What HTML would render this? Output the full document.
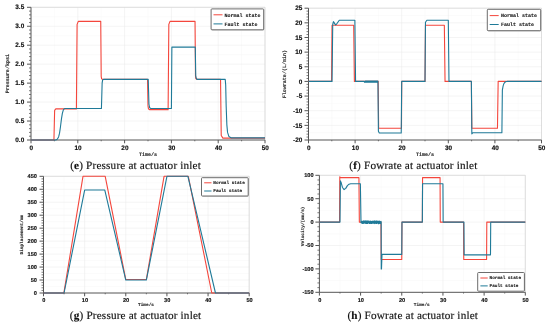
<!DOCTYPE html>
<html><head><meta charset="utf-8"><title>Figure</title>
<style>
html,body{margin:0;padding:0;background:#fff;}
svg{display:block}
text{text-rendering:geometricPrecision}
.tk text{font-family:"Liberation Sans",sans-serif;font-weight:bold;fill:#111;stroke:#111;stroke-width:0.15px}
.ax{font-family:"Liberation Mono",monospace;font-weight:bold;fill:#333;stroke:#333;stroke-width:0.15px}
.lg{font-family:"Liberation Mono",monospace;font-weight:bold;fill:#222;stroke:#222;stroke-width:0.12px}
.cap{font-family:"Liberation Serif",serif;font-size:11.2px;letter-spacing:0.18px;fill:#111;stroke:#111;stroke-width:0.15px}
</style></head><body>
<svg width="550" height="326" viewBox="0 0 550 326">
<rect width="550" height="326" fill="#fff"/>
<rect x="31" y="7.3" width="234" height="132.7" fill="#fff"/>
<path d="M54.4 7.3V140M101.2 7.3V140M148 7.3V140M194.8 7.3V140M241.6 7.3V140M31 130.52H265M31 111.56H265M31 92.61H265M31 73.65H265M31 54.69H265M31 35.74H265M31 16.78H265" stroke="#f6f6f6" stroke-width="0.5" fill="none"/>
<path d="M77.8 7.3V140M124.6 7.3V140M171.4 7.3V140M218.2 7.3V140M265 7.3V140M31 121.04H265M31 102.09H265M31 83.13H265M31 64.17H265M31 45.21H265M31 26.26H265M31 7.3H265" stroke="#e9e9e9" stroke-width="0.5" fill="none"/>
<path d="M31 7.3H265V140" stroke="#cfcfcf" stroke-width="0.6" fill="none"/>
<path d="M31 7.3V140H265M31 140v3.3M77.8 140v3.3M124.6 140v3.3M171.4 140v3.3M218.2 140v3.3M265 140v3.3M31 140h-4M31 121.04h-4M31 102.09h-4M31 83.13h-4M31 64.17h-4M31 45.21h-4M31 26.26h-4M31 7.3h-4" stroke="#555" stroke-width="1" fill="none"/>
<path d="M54.4 140v1.3M101.2 140v1.3M148 140v1.3M194.8 140v1.3M241.6 140v1.3M31 136.21h-2M31 132.42h-2M31 128.63h-2M31 124.83h-2M31 117.25h-2M31 113.46h-2M31 109.67h-2M31 105.88h-2M31 98.29h-2M31 94.5h-2M31 90.71h-2M31 86.92h-2M31 79.34h-2M31 75.55h-2M31 71.75h-2M31 67.96h-2M31 60.38h-2M31 56.59h-2M31 52.8h-2M31 49.01h-2M31 41.42h-2M31 37.63h-2M31 33.84h-2M31 30.05h-2M31 22.47h-2M31 18.67h-2M31 14.88h-2M31 11.09h-2" stroke="#505050" stroke-width="0.75" fill="none"/>
<path d="M31 140 L53.93 140 L54.63 110.43 L55.8 108.91 L76.4 108.91 L77.1 24.36 L78.27 21.33 L100.73 21.33 L101.2 76.3 L101.57 78.58 L102.37 79.34 L147.53 79.34 L148 105.88 L148.47 108.91 L149.4 109.67 L168.12 109.67 L168.83 24.36 L170 21.33 L195.03 21.33 L195.5 76.3 L195.88 78.58 L196.67 79.34 L220.54 79.34 L221.24 135.45 L222.88 138.1 L265 138.1" stroke="#f4463c" stroke-width="1.1" fill="none" stroke-linejoin="round"/>
<path d="M31 140 L55.8 140 L57.21 139.24 L58.61 136.97 L59.55 133.18 L60.48 126.73 L61.42 119.15 L62.36 113.46 L63.29 110.05 L64.23 108.72 L65.16 108.53 L101.43 108.53 L102.14 83.13 L102.6 80.1 L103.54 79.34 L148.23 79.34 L148.94 103.98 L149.64 107.77 L150.81 108.53 L171.4 108.53 L171.87 47.11 L195.27 47.11 L195.74 75.55 L196.2 78.2 L197.14 79.34 L225.22 79.34 L225.69 85.02 L226.16 105.88 L226.86 124.83 L227.56 132.42 L228.96 136.59 L231.3 137.91 L265 137.91" stroke="#1f7a98" stroke-width="1.1" fill="none" stroke-linejoin="round"/>
<g class="tk" font-size="6.4">
<text x="31.3" y="149.6" text-anchor="middle">0</text>
<text x="78.1" y="149.6" text-anchor="middle">10</text>
<text x="124.9" y="149.6" text-anchor="middle">20</text>
<text x="171.7" y="149.6" text-anchor="middle">30</text>
<text x="218.5" y="149.6" text-anchor="middle">40</text>
<text x="265.3" y="149.6" text-anchor="middle">50</text>
<text x="24.2" y="142.15" text-anchor="end">0.0</text>
<text x="24.2" y="123.19" text-anchor="end">0.5</text>
<text x="24.2" y="104.24" text-anchor="end">1.0</text>
<text x="24.2" y="85.28" text-anchor="end">1.5</text>
<text x="24.2" y="66.32" text-anchor="end">2.0</text>
<text x="24.2" y="47.36" text-anchor="end">2.5</text>
<text x="24.2" y="28.41" text-anchor="end">3.0</text>
<text x="24.2" y="9.45" text-anchor="end">3.5</text>
</g>
<text class="ax" font-size="5.05" x="148" y="155.9" text-anchor="middle">Time/s</text>
<text class="ax" font-size="5.05" transform="translate(9.4 73.65) rotate(-90)" text-anchor="middle">Pressure/kpsi</text>
<rect x="211.8" y="9.6" width="52.6" height="20.9" rx="1" fill="#cfcfcf"/>
<rect x="211.1" y="8.9" width="52.6" height="20.9" rx="0.8" fill="#fff" stroke="#5c5c5c" stroke-width="0.9"/>
<path d="M213.5 14.8H222.5" stroke="#f4463c" stroke-width="1"/>
<path d="M213.5 23.9H222.5" stroke="#1f7a98" stroke-width="1"/>
<text class="lg" font-size="5" x="224.5" y="16.5">Normal state</text>
<text class="lg" font-size="5" x="224.5" y="25.6">Fault state</text>
<rect x="308.5" y="8.2" width="233" height="131.8" fill="#fff"/>
<path d="M331.8 8.2V140M378.4 8.2V140M425 8.2V140M471.6 8.2V140M518.2 8.2V140M308.5 132.68H541.5M308.5 118.03H541.5M308.5 103.39H541.5M308.5 88.74H541.5M308.5 74.1H541.5M308.5 59.46H541.5M308.5 44.81H541.5M308.5 30.17H541.5M308.5 15.52H541.5" stroke="#f6f6f6" stroke-width="0.5" fill="none"/>
<path d="M355.1 8.2V140M401.7 8.2V140M448.3 8.2V140M494.9 8.2V140M541.5 8.2V140M308.5 125.36H541.5M308.5 110.71H541.5M308.5 96.07H541.5M308.5 81.42H541.5M308.5 66.78H541.5M308.5 52.13H541.5M308.5 37.49H541.5M308.5 22.84H541.5M308.5 8.2H541.5" stroke="#e9e9e9" stroke-width="0.5" fill="none"/>
<path d="M308.5 8.2H541.5V140" stroke="#cfcfcf" stroke-width="0.6" fill="none"/>
<path d="M308.5 8.2V140H541.5M308.5 140v3.3M355.1 140v3.3M401.7 140v3.3M448.3 140v3.3M494.9 140v3.3M541.5 140v3.3M308.5 140h-4M308.5 125.36h-4M308.5 110.71h-4M308.5 96.07h-4M308.5 81.42h-4M308.5 66.78h-4M308.5 52.13h-4M308.5 37.49h-4M308.5 22.84h-4M308.5 8.2h-4" stroke="#555" stroke-width="1" fill="none"/>
<path d="M331.8 140v1.3M378.4 140v1.3M425 140v1.3M471.6 140v1.3M518.2 140v1.3M308.5 137.07h-2M308.5 134.14h-2M308.5 131.21h-2M308.5 128.28h-2M308.5 122.43h-2M308.5 119.5h-2M308.5 116.57h-2M308.5 113.64h-2M308.5 107.78h-2M308.5 104.85h-2M308.5 101.92h-2M308.5 99h-2M308.5 93.14h-2M308.5 90.21h-2M308.5 87.28h-2M308.5 84.35h-2M308.5 78.49h-2M308.5 75.56h-2M308.5 72.64h-2M308.5 69.71h-2M308.5 63.85h-2M308.5 60.92h-2M308.5 57.99h-2M308.5 55.06h-2M308.5 49.2h-2M308.5 46.28h-2M308.5 43.35h-2M308.5 40.42h-2M308.5 34.56h-2M308.5 31.63h-2M308.5 28.7h-2M308.5 25.77h-2M308.5 19.92h-2M308.5 16.99h-2M308.5 14.06h-2M308.5 11.13h-2" stroke="#505050" stroke-width="0.75" fill="none"/>
<path d="M308.5 81.42 L331.57 81.42 L332.03 25.19 L353.7 25.19 L354.4 81.42 L378.17 81.42 L378.63 128.28 L401.47 128.28 L401.7 81.42 L425 81.42 L425.47 25.19 L444.34 25.19 L445.04 81.42 L471.37 81.42 L471.83 128.28 L497.46 128.28 L498.16 81.42 L541.5 81.42" stroke="#f4463c" stroke-width="1.1" fill="none" stroke-linejoin="round"/>
<path d="M308.5 81.42 L332.03 81.42 L332.73 24.31 L333.43 21.67 L335.53 24.89 L336.46 24.31 L339.26 20.21 L354.87 20.21 L355.57 81.42 L364.42 81.42 L364.42 82.3 L377.93 82.3 L377.93 81.13 L365.35 81.13 L377.93 81.42 L378.4 131.21 L379.33 132.97 L401.23 132.97 L401.7 81.42 L425 81.42 L425.47 22.26 L426.86 20.21 L448.3 20.21 L449 81.42 L471.37 81.42 L471.83 133.85 L473 132.68 L501.89 132.68 L502.36 90.21 L502.36 90.21 L503.13 85.85 L503.91 83.62 L504.69 82.47 L505.46 81.88 L506.24 81.58 L507.02 81.42 L541.5 81.42" stroke="#1f7a98" stroke-width="1.1" fill="none" stroke-linejoin="round"/>
<g class="tk" font-size="6.4">
<text x="308.8" y="149.6" text-anchor="middle">0</text>
<text x="355.4" y="149.6" text-anchor="middle">10</text>
<text x="402" y="149.6" text-anchor="middle">20</text>
<text x="448.6" y="149.6" text-anchor="middle">30</text>
<text x="495.2" y="149.6" text-anchor="middle">40</text>
<text x="541.8" y="149.6" text-anchor="middle">50</text>
<text x="302.3" y="142.15" text-anchor="end">-20</text>
<text x="302.3" y="127.51" text-anchor="end">-15</text>
<text x="302.3" y="112.86" text-anchor="end">-10</text>
<text x="302.3" y="98.22" text-anchor="end">-5</text>
<text x="302.3" y="83.57" text-anchor="end">0</text>
<text x="302.3" y="68.93" text-anchor="end">5</text>
<text x="302.3" y="54.28" text-anchor="end">10</text>
<text x="302.3" y="39.64" text-anchor="end">15</text>
<text x="302.3" y="24.99" text-anchor="end">20</text>
<text x="302.3" y="10.35" text-anchor="end">25</text>
</g>
<text class="ax" font-size="5.05" x="425" y="155.9" text-anchor="middle">Time/s</text>
<text class="ax" font-size="5.05" transform="translate(286.4 74.1) rotate(-90)" text-anchor="middle">Flowrate/(L/min)</text>
<rect x="488" y="10" width="53.4" height="21.4" rx="1" fill="#cfcfcf"/>
<rect x="487.3" y="9.3" width="53.4" height="21.4" rx="0.8" fill="#fff" stroke="#5c5c5c" stroke-width="0.9"/>
<path d="M489.7 15.6H498.7" stroke="#f4463c" stroke-width="1"/>
<path d="M489.7 24.5H498.7" stroke="#1f7a98" stroke-width="1"/>
<text class="lg" font-size="5" x="500.9" y="17.3">Normal state</text>
<text class="lg" font-size="5" x="500.9" y="26.2">Fault state</text>
<rect x="43.5" y="176.3" width="205.7" height="116.7" fill="#fff"/>
<path d="M64.07 176.3V293M105.21 176.3V293M146.35 176.3V293M187.49 176.3V293M228.63 176.3V293M43.5 286.52H249.2M43.5 273.55H249.2M43.5 260.58H249.2M43.5 247.62H249.2M43.5 234.65H249.2M43.5 221.68H249.2M43.5 208.72H249.2M43.5 195.75H249.2M43.5 182.78H249.2" stroke="#f6f6f6" stroke-width="0.5" fill="none"/>
<path d="M84.64 176.3V293M125.78 176.3V293M166.92 176.3V293M208.06 176.3V293M249.2 176.3V293M43.5 280.03H249.2M43.5 267.07H249.2M43.5 254.1H249.2M43.5 241.13H249.2M43.5 228.17H249.2M43.5 215.2H249.2M43.5 202.23H249.2M43.5 189.27H249.2M43.5 176.3H249.2" stroke="#e9e9e9" stroke-width="0.5" fill="none"/>
<path d="M43.5 176.3H249.2V293" stroke="#cfcfcf" stroke-width="0.6" fill="none"/>
<path d="M43.5 176.3V293H249.2M43.5 293v3.3M84.64 293v3.3M125.78 293v3.3M166.92 293v3.3M208.06 293v3.3M249.2 293v3.3M43.5 293h-4M43.5 280.03h-4M43.5 267.07h-4M43.5 254.1h-4M43.5 241.13h-4M43.5 228.17h-4M43.5 215.2h-4M43.5 202.23h-4M43.5 189.27h-4M43.5 176.3h-4" stroke="#555" stroke-width="1" fill="none"/>
<path d="M64.07 293v1.3M105.21 293v1.3M146.35 293v1.3M187.49 293v1.3M228.63 293v1.3M43.5 290.41h-2M43.5 287.81h-2M43.5 285.22h-2M43.5 282.63h-2M43.5 277.44h-2M43.5 274.85h-2M43.5 272.25h-2M43.5 269.66h-2M43.5 264.47h-2M43.5 261.88h-2M43.5 259.29h-2M43.5 256.69h-2M43.5 251.51h-2M43.5 248.91h-2M43.5 246.32h-2M43.5 243.73h-2M43.5 238.54h-2M43.5 235.95h-2M43.5 233.35h-2M43.5 230.76h-2M43.5 225.57h-2M43.5 222.98h-2M43.5 220.39h-2M43.5 217.79h-2M43.5 212.61h-2M43.5 210.01h-2M43.5 207.42h-2M43.5 204.83h-2M43.5 199.64h-2M43.5 197.05h-2M43.5 194.45h-2M43.5 191.86h-2M43.5 186.67h-2M43.5 184.08h-2M43.5 181.49h-2M43.5 178.89h-2" stroke="#505050" stroke-width="0.75" fill="none"/>
<path d="M43.5 293 L63.86 293 L82.99 176.3 L105.21 176.3 L125.78 279.51 L146.35 279.51 L164.04 176.3 L188.31 176.3 L211.76 293 L249.2 293" stroke="#f4463c" stroke-width="1.1" fill="none" stroke-linejoin="round"/>
<path d="M43.5 293 L64.07 293 L84.64 190.04 L104.8 190.04 L125.78 280.03 L146.35 280.03 L166.92 176.3 L187.9 176.3 L215.47 293 L249.2 293" stroke="#1f7a98" stroke-width="1.1" fill="none" stroke-linejoin="round"/>
<g class="tk" font-size="5.6">
<text x="43.8" y="301.8" text-anchor="middle">0</text>
<text x="84.94" y="301.8" text-anchor="middle">10</text>
<text x="126.08" y="301.8" text-anchor="middle">20</text>
<text x="167.22" y="301.8" text-anchor="middle">30</text>
<text x="208.36" y="301.8" text-anchor="middle">40</text>
<text x="249.5" y="301.8" text-anchor="middle">50</text>
<text x="36.9" y="294.88" text-anchor="end">0</text>
<text x="36.9" y="281.91" text-anchor="end">50</text>
<text x="36.9" y="268.95" text-anchor="end">100</text>
<text x="36.9" y="255.98" text-anchor="end">150</text>
<text x="36.9" y="243.01" text-anchor="end">200</text>
<text x="36.9" y="230.05" text-anchor="end">250</text>
<text x="36.9" y="217.08" text-anchor="end">300</text>
<text x="36.9" y="204.11" text-anchor="end">350</text>
<text x="36.9" y="191.15" text-anchor="end">400</text>
<text x="36.9" y="178.18" text-anchor="end">450</text>
</g>
<text class="ax" font-size="4.42" x="146" y="306.1" text-anchor="middle">Time/s</text>
<text class="ax" font-size="4.42" transform="translate(22.9 234.65) rotate(-90)" text-anchor="middle">Displacement/mm</text>
<rect x="202.2" y="178.4" width="46.7" height="18.3" rx="1" fill="#cfcfcf"/>
<rect x="201.5" y="177.7" width="46.7" height="18.3" rx="0.8" fill="#fff" stroke="#5c5c5c" stroke-width="0.9"/>
<path d="M204.2 182.8H211.5" stroke="#f4463c" stroke-width="1"/>
<path d="M204.2 191H211.5" stroke="#1f7a98" stroke-width="1"/>
<text class="lg" font-size="4.38" x="213.3" y="184.29">Normal state</text>
<text class="lg" font-size="4.38" x="213.3" y="192.49">Fault state</text>
<rect x="319.4" y="175.3" width="205.9" height="117" fill="#fff"/>
<path d="M339.99 175.3V292.3M381.17 175.3V292.3M422.35 175.3V292.3M463.53 175.3V292.3M504.71 175.3V292.3M319.4 280.6H525.3M319.4 257.2H525.3M319.4 233.8H525.3M319.4 210.4H525.3M319.4 187H525.3" stroke="#f6f6f6" stroke-width="0.5" fill="none"/>
<path d="M360.58 175.3V292.3M401.76 175.3V292.3M442.94 175.3V292.3M484.12 175.3V292.3M525.3 175.3V292.3M319.4 268.9H525.3M319.4 245.5H525.3M319.4 222.1H525.3M319.4 198.7H525.3M319.4 175.3H525.3" stroke="#e9e9e9" stroke-width="0.5" fill="none"/>
<path d="M319.4 175.3H525.3V292.3" stroke="#cfcfcf" stroke-width="0.6" fill="none"/>
<path d="M319.4 175.3V292.3H525.3M319.4 292.3v3.3M360.58 292.3v3.3M401.76 292.3v3.3M442.94 292.3v3.3M484.12 292.3v3.3M525.3 292.3v3.3M319.4 292.3h-4M319.4 268.9h-4M319.4 245.5h-4M319.4 222.1h-4M319.4 198.7h-4M319.4 175.3h-4" stroke="#555" stroke-width="1" fill="none"/>
<path d="M339.99 292.3v1.3M381.17 292.3v1.3M422.35 292.3v1.3M463.53 292.3v1.3M504.71 292.3v1.3M319.4 287.62h-2M319.4 282.94h-2M319.4 278.26h-2M319.4 273.58h-2M319.4 264.22h-2M319.4 259.54h-2M319.4 254.86h-2M319.4 250.18h-2M319.4 240.82h-2M319.4 236.14h-2M319.4 231.46h-2M319.4 226.78h-2M319.4 217.42h-2M319.4 212.74h-2M319.4 208.06h-2M319.4 203.38h-2M319.4 194.02h-2M319.4 189.34h-2M319.4 184.66h-2M319.4 179.98h-2" stroke="#505050" stroke-width="0.75" fill="none"/>
<path d="M319.4 222.1 L339.58 222.1 L339.78 176.7 L340.4 177.64 L358.93 177.64 L359.34 222.1 L380.96 222.1 L381.17 259.54 L401.76 259.54 L401.97 222.1 L422.35 222.1 L422.56 177.64 L440.06 177.64 L440.26 222.1 L463.53 222.1 L463.74 259.54 L486.59 259.54 L486.8 222.1 L525.3 222.1" stroke="#f4463c" stroke-width="1.1" fill="none" stroke-linejoin="round"/>
<path d="M319.4 222.1 L339.99 222.1 L340.4 180.92 L341.23 182.79 L342.46 187.47 L344.11 189.57 L345.76 188.4 L347.4 185.6 L349.05 184.19 L350.7 183.72 L360.37 183.72 L360.99 221.63 L360.99 222.55 L361.07 222.11 L361.14 222.38 L361.21 222.02 L361.29 221.98 L361.36 222.94 L361.44 223.06 L361.51 221.57 L361.58 222.66 L361.66 222.73 L361.73 221.2 L361.81 222.27 L361.88 221.49 L361.96 222.27 L362.03 221.9 L362.1 223.04 L362.18 221.9 L362.25 221.32 L362.33 222.17 L362.4 221.61 L362.47 221.78 L362.55 223.42 L362.62 221.54 L362.7 221.99 L362.77 222.78 L362.84 223.51 L362.92 221.25 L362.99 222.31 L363.07 221.65 L363.14 221.21 L363.22 221.66 L363.29 221.1 L363.36 222.53 L363.44 221.42 L363.51 222.39 L363.59 221.06 L363.66 221.21 L363.73 223.33 L363.81 223.23 L363.88 223.01 L363.96 220.98 L364.03 222.41 L364.11 221.9 L364.18 222.78 L364.25 222.22 L364.33 222.55 L364.4 222.65 L364.48 222.01 L364.55 222.01 L364.62 221.14 L364.7 221.75 L364.77 221.08 L364.85 221.27 L364.92 220.91 L364.99 221.78 L365.07 223.15 L365.14 221.26 L365.22 220.98 L365.29 221.14 L365.37 222.05 L365.44 221.66 L365.51 223.02 L365.59 221.34 L365.66 222.04 L365.74 222.82 L365.81 223.43 L365.88 221.28 L365.96 220.91 L366.03 223.36 L366.11 221.42 L366.18 222.48 L366.25 223.19 L366.33 222.8 L366.4 221.51 L366.48 221.23 L366.55 223.48 L366.63 221.93 L366.7 223.48 L366.77 221.65 L366.85 222.7 L366.92 221.21 L367 220.94 L367.07 222.23 L367.14 220.89 L367.22 222.76 L367.29 223.39 L367.37 221.97 L367.44 223.51 L367.51 223.06 L367.59 222.49 L367.66 221.94 L367.74 223.17 L367.81 223.48 L367.89 221.24 L367.96 222.75 L368.03 221 L368.11 221.16 L368.18 222.57 L368.26 222.35 L368.33 222.19 L368.4 221.85 L368.48 221.98 L368.55 222.08 L368.63 221.91 L368.7 221.04 L368.77 222.22 L368.85 222.43 L368.92 221.64 L369 222.95 L369.07 222.78 L369.15 220.94 L369.22 222.18 L369.29 222.11 L369.37 223.57 L369.44 222.47 L369.52 222.02 L369.59 223.54 L369.66 221.93 L369.74 221.88 L369.81 223.43 L369.89 221.89 L369.96 222.33 L370.03 221.75 L370.11 222.64 L370.18 221.68 L370.26 221.59 L370.33 223.54 L370.41 223.43 L370.48 221.76 L370.55 220.98 L370.63 222.92 L370.7 222.36 L370.78 221.99 L370.85 222.73 L370.92 222.61 L371 222.75 L371.07 222.6 L371.15 221.98 L371.22 222.78 L371.3 222.57 L371.37 221.5 L371.44 223.52 L371.52 222.05 L371.59 221.6 L371.67 222.76 L371.74 222.99 L371.81 221.42 L371.89 222.95 L371.96 223.09 L372.04 222.42 L372.11 221.7 L372.18 223.32 L372.26 222.72 L372.33 222.69 L372.41 221.34 L372.48 222.41 L372.56 221.28 L372.63 223.14 L372.7 222.68 L372.78 221.83 L372.85 221.2 L372.93 222.37 L373 222.99 L373.07 223.27 L373.15 222.16 L373.22 223.08 L373.3 221.41 L373.37 221.32 L373.44 223.1 L373.52 222.84 L373.59 221.41 L373.67 221.86 L373.74 221.41 L373.82 222.66 L373.89 223.25 L373.96 222.81 L374.04 221.44 L374.11 222.86 L374.19 222.66 L374.26 222.47 L374.33 222.46 L374.41 222.49 L374.48 221.1 L374.56 223.17 L374.63 223.58 L374.7 221.04 L374.78 221.21 L374.85 220.92 L374.93 222.42 L375 221.02 L375.08 221.08 L375.15 222.99 L375.22 221.57 L375.3 221.33 L375.37 221.8 L375.45 222.19 L375.52 222.81 L375.59 222.67 L375.67 222.98 L375.74 223.41 L375.82 222 L375.89 222.82 L375.96 221.4 L376.04 223.48 L376.11 221.14 L376.19 221.71 L376.26 221.09 L376.34 221.16 L376.41 221.16 L376.48 222.03 L376.56 223.56 L376.63 221.57 L376.71 223.13 L376.78 222.78 L376.85 221.8 L376.93 222.17 L377 222.47 L377.08 221.05 L377.15 221.94 L377.22 222.67 L377.3 222.91 L377.37 221.26 L377.45 222.3 L377.52 221.47 L377.6 222.64 L377.67 223.06 L377.74 222.15 L377.82 221.38 L377.89 223.13 L377.97 221.45 L378.04 221.1 L378.11 221.41 L378.19 221.36 L378.26 223.58 L378.34 221.89 L378.41 221.26 L378.49 223.46 L378.56 222.86 L378.63 222.87 L378.71 222.17 L378.78 222.45 L378.86 222.31 L378.93 221.49 L379 223.59 L379.08 223.45 L379.15 223.25 L379.23 223.26 L379.3 223.41 L379.37 220.95 L379.45 221.28 L379.52 223.36 L379.6 222.23 L379.67 222.74 L379.75 222.74 L379.82 222.64 L379.89 221.84 L379.97 222.01 L380.04 222.62 L380.12 223.08 L380.19 222.71 L380.26 223.26 L380.34 222.09 L380.41 221.65 L380.49 222.57 L380.56 223.38 L380.63 223.11 L380.71 222.58 L380.78 221.96 L380.86 221.47 L380.93 222.57 L381.01 221.42 L381.08 221.91 L381.15 222.43 L381.17 222.1 L381.25 268.9 L381.5 268.9 L381.99 254.39 L401.76 254.39 L401.97 222.1 L422.35 222.1 L422.56 183.72 L442.94 183.72 L443.15 222.1 L463.94 222.1 L464.15 254.86 L490.5 254.86 L490.71 222.1 L525.3 222.1" stroke="#1f7a98" stroke-width="1.1" fill="none" stroke-linejoin="round"/>
<g class="tk" font-size="5.6">
<text x="319.7" y="301.6" text-anchor="middle">0</text>
<text x="360.88" y="301.6" text-anchor="middle">10</text>
<text x="402.06" y="301.6" text-anchor="middle">20</text>
<text x="443.24" y="301.6" text-anchor="middle">30</text>
<text x="484.42" y="301.6" text-anchor="middle">40</text>
<text x="525.6" y="301.6" text-anchor="middle">50</text>
<text x="313.6" y="294.18" text-anchor="end">-150</text>
<text x="313.6" y="270.78" text-anchor="end">-100</text>
<text x="313.6" y="247.38" text-anchor="end">-50</text>
<text x="313.6" y="223.98" text-anchor="end">0</text>
<text x="313.6" y="200.58" text-anchor="end">50</text>
<text x="313.6" y="177.18" text-anchor="end">100</text>
</g>
<text class="ax" font-size="4.42" x="421.8" y="306" text-anchor="middle">Time/s</text>
<text class="ax" font-size="4.42" transform="translate(303.6 226.4) rotate(-90)" text-anchor="middle">Velocity/(mm/s)</text>
<rect x="478.4" y="273.2" width="46.7" height="18.7" rx="1" fill="#cfcfcf"/>
<rect x="477.7" y="272.5" width="46.7" height="18.7" rx="0.8" fill="#fff" stroke="#5c5c5c" stroke-width="0.9"/>
<path d="M480.4 278H487.7" stroke="#f4463c" stroke-width="1"/>
<path d="M480.4 285.9H487.7" stroke="#1f7a98" stroke-width="1"/>
<text class="lg" font-size="4.38" x="489.5" y="279.49">Normal state</text>
<text class="lg" font-size="4.38" x="489.5" y="287.39">Fault state</text>
<text class="cap" x="135.6" y="169.2" text-anchor="middle">(<tspan font-weight="bold">e</tspan>) Pressure at actuator inlet</text>
<text class="cap" x="413.4" y="169.2" text-anchor="middle">(<tspan font-weight="bold">f</tspan>) Fowrate at actuator inlet</text>
<text class="cap" x="135.6" y="319.2" text-anchor="middle">(<tspan font-weight="bold">g</tspan>) Pressure at actuator inlet</text>
<text class="cap" x="412.8" y="319.2" text-anchor="middle">(<tspan font-weight="bold">h</tspan>) Fowrate at actuator inlet</text>
</svg>
</body></html>
